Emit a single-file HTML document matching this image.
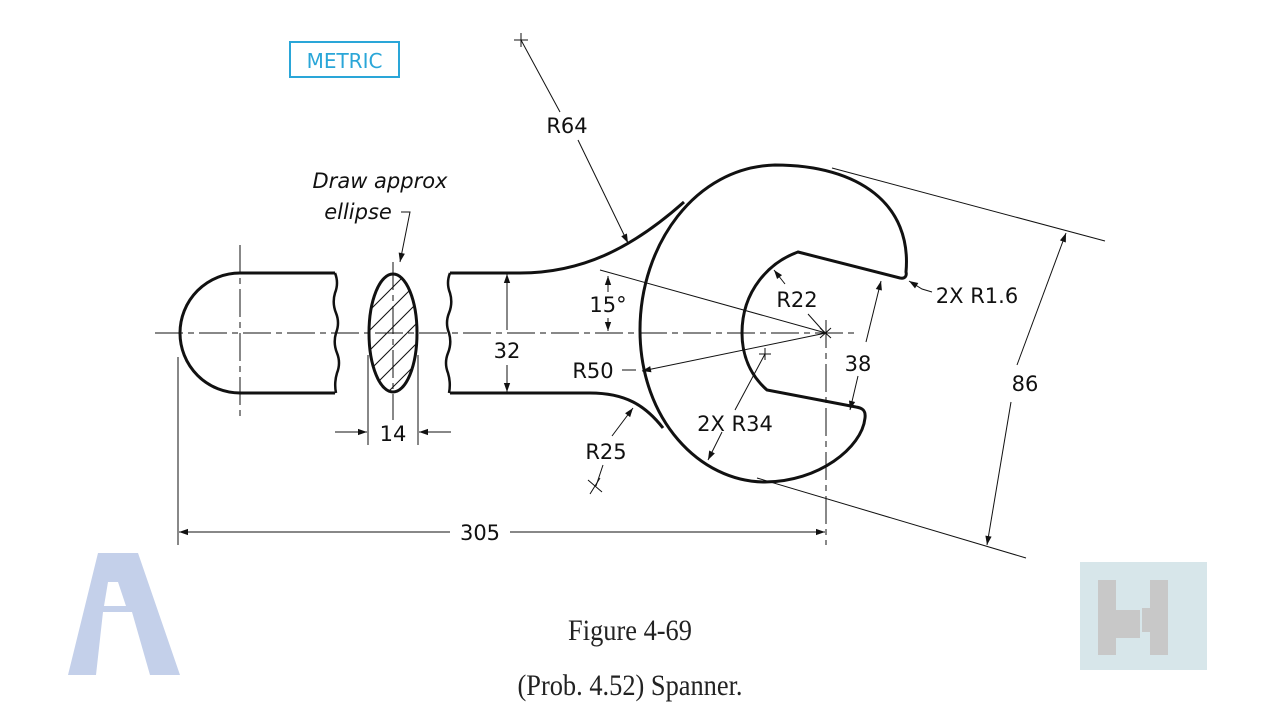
<!DOCTYPE html>
<html><head><meta charset="utf-8"><style>
html,body{margin:0;padding:0;background:#fff;width:1280px;height:720px;overflow:hidden}
svg{display:block}
.t{font-family:"DejaVu Sans","Liberation Sans",sans-serif;font-size:21px;fill:#111}
.cap{font-family:"Liberation Serif",serif;font-size:30px;fill:#222}
</style></head><body>
<svg width="1280" height="720" viewBox="0 0 1280 720" xmlns="http://www.w3.org/2000/svg">
<defs>
<marker id="a" viewBox="0 0 10 10" refX="10" refY="5" markerWidth="11" markerHeight="9" orient="auto-start-reverse" markerUnits="userSpaceOnUse"><path d="M0,1.5 L10,5 L0,8.5 Z" fill="#111"/></marker>
<clipPath id="ec"><ellipse cx="393" cy="333" rx="24" ry="59"/></clipPath>
</defs>
<rect x="290" y="42" width="109" height="35" fill="none" stroke="#2aa6d8" stroke-width="2"/>
<text x="344.5" y="68" text-anchor="middle" font-family="DejaVu Sans,Liberation Sans,sans-serif" font-size="20" fill="#2aa6d8">METRIC</text>

<g stroke="#111" fill="none">
<path d="M155,333 H855" stroke-width="1" stroke-dasharray="28,5,6,5"/>
<path d="M240,245 V420 M393,262 V420 M826,320 V545" stroke-width="1" stroke-dasharray="28,5,6,5"/>

<path d="M335,273 H240 A60,60 0 0 0 240,393 H335" stroke-width="3"/>
<path d="M335,273 q4,10 0,20 q-3,10 1,20 q4,10 0,20 q-3,10 1,20 q4,10 0,20 q-3,10 -1,20" stroke-width="2.5"/>
<ellipse cx="393" cy="333" rx="24" ry="59" stroke-width="3"/>
<g clip-path="url(#ec)" stroke-width="1">
<path d="M360,300 L420,240 M360,320 L430,250 M360,340 L430,270 M360,360 L430,290 M360,380 L430,310 M360,400 L430,330 M360,420 L430,350 M360,440 L430,370"/>
</g>
<path d="M450,273 H520 C580,273 630,250 684,202" stroke-width="3"/>
<path d="M450,393 H590 C625,393 645,405 663,428" stroke-width="3"/>
<path d="M450,273 q-4,10 0,20 q3,10 -1,20 q-4,10 0,20 q3,10 -1,20 q-4,10 0,20 q3,10 1,20" stroke-width="2.5"/>
<path d="M906,272 C912,205 860,165 775,165 C695,167 640,245 640,330 C640,420 700,482 765,482 C818,482 862,448 865,418 C866,410 862,408 856,407 L767,390 C750,375 742,355 742,333 C742,290 770,262 798,252 L900,278 C905,279 907,276 906,272 Z" stroke-width="3"/>

<path d="M178,357 V545" stroke-width="1"/>
<path d="M179,532 H450" stroke-width="1" marker-start="url(#a)" />
<path d="M510,532 H825" stroke-width="1" marker-end="url(#a)"/>
<path d="M368,355 V445 M418,355 V445" stroke-width="1"/>
<path d="M335,432 H367" stroke-width="1" marker-end="url(#a)"/>
<path d="M451,432 H419" stroke-width="1" marker-end="url(#a)"/>
<path d="M507,330 V274" stroke-width="1" marker-end="url(#a)"/>
<path d="M507,365 V392" stroke-width="1" marker-end="url(#a)"/>
<path d="M401,212 H410 L400,262" stroke-width="1" marker-end="url(#a)"/>
<path d="M514,40 H528 M521,33 V47" stroke-width="1"/>
<path d="M521,40 L560,112" stroke-width="1"/>
<path d="M578,140 L628,243" stroke-width="1" marker-end="url(#a)"/>
<path d="M600,270 L826,333" stroke-width="1"/>
<path d="M608,292 V276" stroke-width="1" marker-end="url(#a)"/>
<path d="M608,318 V331" stroke-width="1" marker-end="url(#a)"/>
<path d="M622,370 H636" stroke-width="1"/>
<path d="M826,333 L642,371" stroke-width="1" marker-end="url(#a)"/>
<path d="M588,480 L602,492 M600,478 L590,494" stroke-width="1"/>
<path d="M596,486 L603,465" stroke-width="1"/>
<path d="M612,436 L633,408" stroke-width="1" marker-end="url(#a)"/>
<path d="M759,354 H771 M765,348 V360" stroke-width="1"/>
<path d="M765,354 L735,410" stroke-width="1"/>
<path d="M722,432 L708,460" stroke-width="1" marker-end="url(#a)"/>
<path d="M820,328 L831,338 M831,328 L820,338" stroke-width="1"/>
<path d="M825,333 L808,314" stroke-width="1"/>
<path d="M785,284 L774,270" stroke-width="1" marker-end="url(#a)"/>
<path d="M932,292 L922,289 L909,281" stroke-width="1" marker-end="url(#a)"/>
<path d="M866,342 L881,281" stroke-width="1" marker-end="url(#a)"/>
<path d="M858,376 L850,410" stroke-width="1" marker-end="url(#a)"/>
<path d="M832,168 L1105,241 M757,478 L1026,558" stroke-width="1"/>
<path d="M1017,365 L1066,233" stroke-width="1" marker-end="url(#a)"/>
<path d="M1011,402 L987,545" stroke-width="1" marker-end="url(#a)"/>
</g>

<text class="t" x="380" y="188" text-anchor="middle" font-style="italic" font-size="22">Draw approx</text>
<text class="t" x="358" y="219" text-anchor="middle" font-style="italic" font-size="22">ellipse</text>
<text class="t" x="567" y="133" text-anchor="middle">R64</text>
<text class="t" x="608" y="312" text-anchor="middle" font-size="19">15°</text>
<text class="t" x="507" y="358" text-anchor="middle">32</text>
<text class="t" x="593" y="378" text-anchor="middle">R50</text>
<text class="t" x="393" y="441" text-anchor="middle">14</text>
<text class="t" x="480" y="540" text-anchor="middle">305</text>
<text class="t" x="606" y="459" text-anchor="middle">R25</text>
<text class="t" x="735" y="431" text-anchor="middle">2X R34</text>
<text class="t" x="797" y="307" text-anchor="middle">R22</text>
<text class="t" x="977" y="303" text-anchor="middle">2X R1.6</text>
<text class="t" x="858" y="371" text-anchor="middle">38</text>
<text class="t" x="1025" y="391" text-anchor="middle">86</text>

<g transform="translate(630,0) scale(0.88,1)">
<text class="cap" x="0" y="640" text-anchor="middle">Figure 4-69</text>
<text class="cap" x="0" y="695" text-anchor="middle">(Prob. 4.52) Spanner.</text>
</g>

<path d="M68,675 L98,553 L138,553 L180,675 L150,675 L132,612 L103,612 L96,675 Z M108,582 L104,606 L126,606 L118,582 Z" fill="#c4d0ea"/>
<rect x="1080" y="562" width="127" height="108" fill="#d7e6ea"/>
<path d="M1098,580 H1116 V610 H1140 V638 H1116 V655 H1098 Z M1150,580 H1168 V655 H1150 V632 H1142 V608 H1150 Z" fill="#c8c8c8"/>
</svg>
</body></html>
